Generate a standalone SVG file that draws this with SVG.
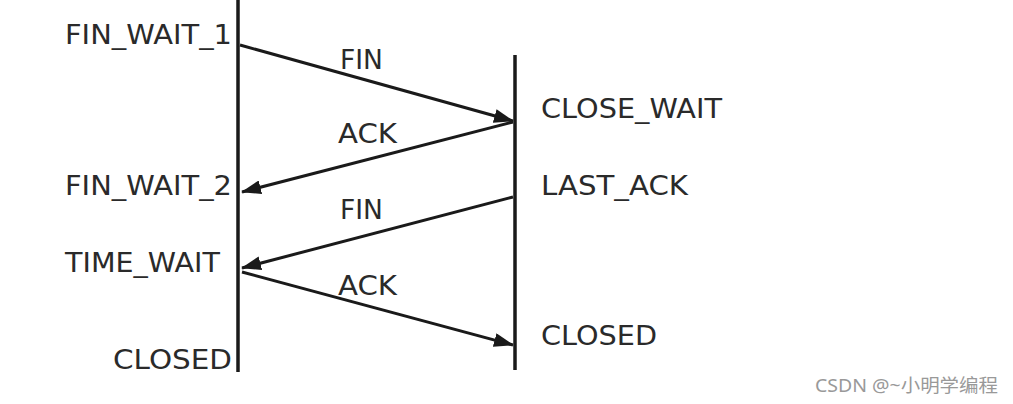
<svg xmlns="http://www.w3.org/2000/svg" width="1013" height="404" viewBox="0 0 1013 404">
<style>
.t{font-family:"DejaVu Sans",sans-serif;font-size:26px;fill:#2a2a2a}
.l{stroke:#1a1a1a;stroke-width:3.5;fill:none}
.a{stroke:#1a1a1a;stroke-width:3;fill:none;marker-end:url(#ah)}
</style>
<defs>
<marker id="ah" viewBox="0 0 20 14" refX="19" refY="7" markerWidth="20" markerHeight="14" orient="auto" markerUnits="userSpaceOnUse"><path d="M0,0L20,7L0,14z" fill="#1a1a1a"/></marker></defs>
<rect width="1013" height="404" fill="#fff"/>
<g id="timelines">
<line class="l" x1="238" y1="0" x2="238" y2="372"/>
<line class="l" x1="515" y1="55" x2="515" y2="370"/>
</g>
<g id="connectors">
<line class="a" x1="240" y1="45" x2="513" y2="121"/>
<line class="a" x1="513" y1="122" x2="242" y2="192"/>
<line class="a" x1="513" y1="197" x2="242" y2="268"/>
<line class="a" x1="242" y1="272" x2="513" y2="345"/>
</g>
<g id="labels">
<text class="t" x="65" y="44" textLength="167" lengthAdjust="spacingAndGlyphs">FIN_WAIT_1</text>
<text class="t" x="340" y="69" textLength="43" lengthAdjust="spacingAndGlyphs">FIN</text>
<text class="t" x="541" y="118" textLength="181" lengthAdjust="spacingAndGlyphs">CLOSE_WAIT</text>
<text class="t" x="338" y="143" textLength="59" lengthAdjust="spacingAndGlyphs">ACK</text>
<text class="t" x="65" y="195" textLength="167" lengthAdjust="spacingAndGlyphs">FIN_WAIT_2</text>
<text class="t" x="541" y="195" textLength="147" lengthAdjust="spacingAndGlyphs">LAST_ACK</text>
<text class="t" x="340" y="219" textLength="43" lengthAdjust="spacingAndGlyphs">FIN</text>
<text class="t" x="65" y="272" textLength="155" lengthAdjust="spacingAndGlyphs">TIME_WAIT</text>
<text class="t" x="338" y="295" textLength="59" lengthAdjust="spacingAndGlyphs">ACK</text>
<text class="t" x="541" y="345" textLength="116" lengthAdjust="spacingAndGlyphs">CLOSED</text>
<text class="t" x="113" y="369" textLength="119" lengthAdjust="spacingAndGlyphs">CLOSED</text>
<text x="815" y="392" style="font-family:'Noto Sans','Noto Sans CJK SC',sans-serif;font-size:18px;fill:#999" textLength="183" lengthAdjust="spacingAndGlyphs">CSDN @~小明学编程</text>
</g>
</svg>
